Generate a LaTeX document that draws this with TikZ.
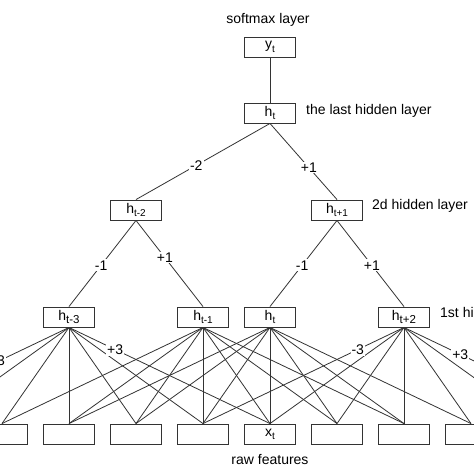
\documentclass[tikz,border=0pt]{standalone}
\usepackage{fontspec}
\setmainfont{Liberation Sans}
\newcommand{\sbA}[1]{\raisebox{-0.45ex}{\fontsize{11.5}{12}\selectfont #1}}
\newcommand{\sbB}[1]{\raisebox{-0.45ex}{\fontsize{10}{10}\selectfont #1}}
\begin{document}
\begin{tikzpicture}[x=1pt,y=-1pt,
  every node/.style={font=\fontsize{14}{16}\selectfont},
  box/.style={draw=black!80, line width=0.9pt, minimum width=51pt, minimum height=20pt, inner sep=0pt, fill=white},
  conn/.style={draw=black!80, line width=0.8pt},
  lab/.style={fill=white, inner sep=1pt},
  txt/.style={inner sep=0pt}]
\useasboundingbox (0,0) rectangle (474,474);
\clip (0,0) rectangle (474,474);
\fill[white] (0,0) rectangle (474,474);
% nodes
\node[box] (y) at (270,47) {y\sbB{t}};
\node[box] (h) at (270,113) {h\sbB{t}};
\node[box] (h2m) at (136,210) {h\sbB{t-2}};
\node[box] (h1p) at (337,210) {h\sbB{t+1}};
\node[box] (a) at (69,317) {h\sbA{t-3}};
\node[box] (b) at (203,317) {h\sbB{t-1}};
\node[box] (c) at (270,317) {h\sbB{t}};
\node[box] (d) at (404,317) {h\sbA{t+2}};
\foreach \i in {0,...,5,7,8,9,10,11} \node[box] (in\i) at ({270+67*(\i-6)},434) {};
\node[box] (in6) at (270,434) {x\sbB{t}};
% texts
\node[txt] (tsm) at (268,20) {softmax layer};
\node[txt,anchor=west] (tlast) at (306,111) {the last hidden layer};
\node[txt,anchor=west] (t2d) at (372,206) {2d hidden layer};
\node[txt,anchor=west] (t1st) at (440,314) {1st hidden layer};
\node[txt] (traw) at (270,459) {raw features};
% bottom connections
\foreach \i in {1,...,5} \draw[conn] (a.south) -- (in\i.north);
\foreach \i in {2,...,8} \draw[conn] (b.south) -- (in\i.north);
\foreach \i in {3,...,9} \draw[conn] (c.south) -- (in\i.north);
\foreach \i in {6,...,10} \draw[conn] (d.south) -- (in\i.north);
\draw[conn] (a.south) -- (in0.north) node[lab,pos=0.35]{-3};
\draw[conn] (a.south) -- (in6.north) node[lab,pos=0.23]{+3};
\draw[conn] (d.south) -- (in5.north) node[lab,pos=0.23]{-3};
\draw[conn] (d.south) -- (in11.north) node[lab,pos=0.28]{+3};
% upper connections
\draw[conn] (y.south) -- (h.north);
\draw[conn] (h.south) -- (h2m.north) node[lab,pos=0.55]{-2};
\draw[conn] (h.south) -- (h1p.north) node[lab,pos=0.58]{+1};
\draw[conn] (h2m.south) -- (a.north) node[lab,pos=0.52]{-1};
\draw[conn] (h2m.south) -- (b.north) node[lab,pos=0.43]{+1};
\draw[conn] (h1p.south) -- (c.north) node[lab,pos=0.52]{-1};
\draw[conn] (h1p.south) -- (d.north) node[lab,pos=0.52]{+1};
\end{tikzpicture}
\end{document}
